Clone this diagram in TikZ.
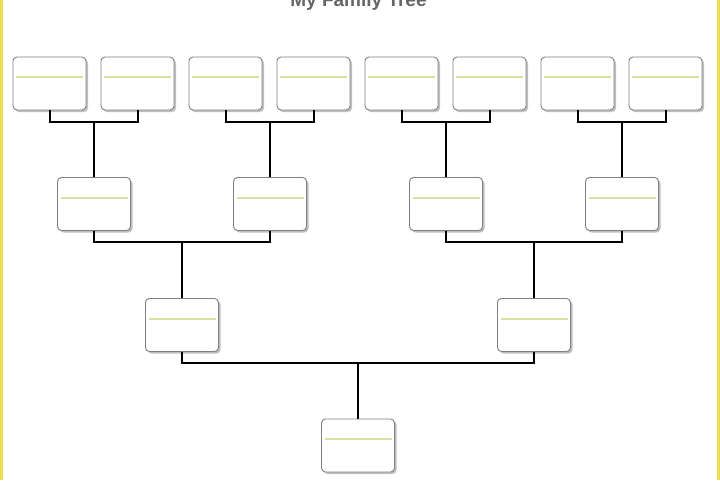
\documentclass[tikz,border=0pt]{standalone}
\usepackage{fontspec}
\setmainfont{Liberation Sans}
\usetikzlibrary{shadows}
\definecolor{namegreen}{RGB}{214,226,160}
\definecolor{edgeyellow}{RGB}{232,222,80}
\begin{document}
\begin{tikzpicture}[x=1pt, y=-1pt,
    person/.style={rectangle, draw=black!50, line width=0.9pt, fill=white,
      rounded corners=4pt, inner sep=0pt, minimum width=73pt, minimum height=53pt,
      drop shadow={shadow xshift=2pt, shadow yshift=-2pt, opacity=0.55, fill=black!45},
      path picture={\draw[namegreen, line width=2pt]
        ([xshift=3pt, yshift=-20pt]path picture bounding box.north west) --
        ([xshift=-3pt, yshift=-20pt]path picture bounding box.north east);}},
    link/.style={draw=black, line width=2pt}]
  \useasboundingbox (0, 0) rectangle (720, 480);
  \fill[white] (0, 0) rectangle (720, 480);
  \draw[edgeyellow, line width=2.5pt] (1.5, 0) -- (1.5, 480);
  \draw[edgeyellow, line width=2.5pt] (718.5, 0) -- (718.5, 480);

  \node[anchor=base, text=black!60, font=\bfseries\fontsize{19}{22}\selectfont] (title) at (358.5, 6) {My Family Tree};

  % great-grandparents
  \foreach \i/\x in {1/49.5, 2/137.5, 3/225.5, 4/313.5, 5/401.5, 6/489.5, 7/577.5, 8/665.5}
    \node[person] (gg\i) at (\x, 83.5) {};
  % grandparents
  \foreach \i/\x in {1/94, 2/270, 3/446, 4/622}
    \node[person] (g\i) at (\x, 204) {};
  % parents
  \node[person] (p1) at (182, 325) {};
  \node[person] (p2) at (534, 325) {};
  % me
  \node[person] (me) at (358, 445.5) {};

  \foreach \i/\a/\b in {1/1/2, 2/3/4, 3/5/6, 4/7/8} {
    \path (gg\a.south) ++(0, 12) coordinate (jg\i);
    \draw[link] (gg\a.south) -- (jg\i) -| (gg\b.south);
    \draw[link] (jg\i -| g\i.north) -- (g\i.north);
  }
  \foreach \i/\a/\b in {1/1/2, 2/3/4} {
    \path (g\a.south) ++(0, 11) coordinate (jp\i);
    \draw[link] (g\a.south) -- (jp\i) -| (g\b.south);
    \draw[link] (jp\i -| p\i.north) -- (p\i.north);
  }
  \path (p1.south) ++(0, 11) coordinate (jm);
  \draw[link] (p1.south) -- (jm) -| (p2.south);
  \draw[link] (jm -| me.north) -- (me.north);
\end{tikzpicture}
\end{document}
